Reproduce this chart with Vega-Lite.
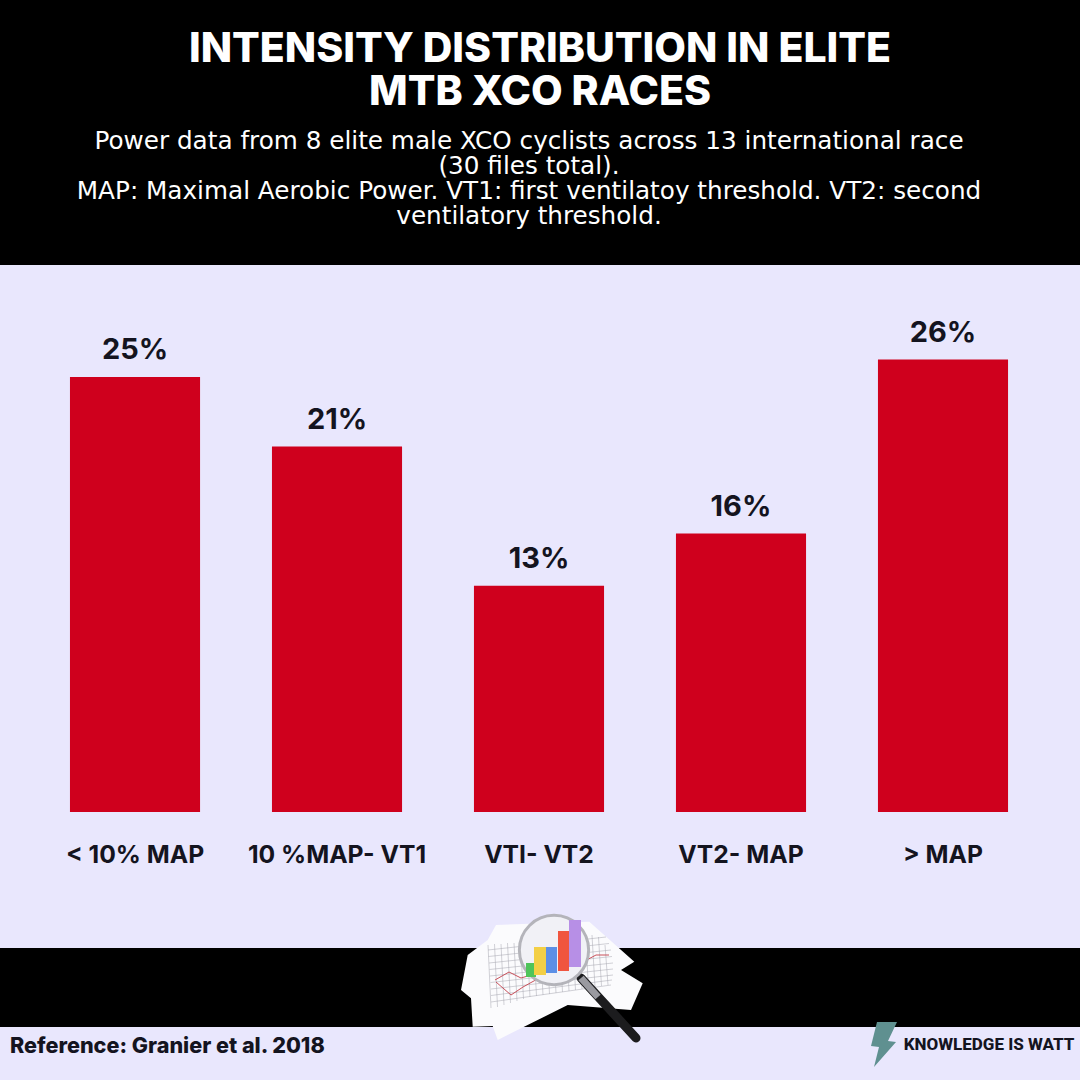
{
  "$schema": "https://vega.github.io/schema/vega-lite/v6.json",
  "description": "Intensity distribution in elite MTB XCO races",
  "width": 1080,
  "height": 1080,
  "autosize": "none",
  "padding": 0,
  "background": "#e9e7fd",
  "title": {
    "text": ["INTENSITY DISTRIBUTION IN ELITE", "MTB XCO RACES"],
    "anchor": "middle",
    "frame": "group",
    "offset": -114,
    "color": "#ffffff",
    "font": "Inter",
    "fontSize": 41,
    "fontWeight": 800,
    "lineHeight": 43
  },
  "datasets": {
    "zones": [
      {"zone": "< 10% MAP", "share": 25, "label": "25%"},
      {"zone": "10 %MAP- VT1", "share": 21, "label": "21%"},
      {"zone": "VTI- VT2", "share": 13, "label": "13%"},
      {"zone": "VT2- MAP", "share": 16, "label": "16%"},
      {"zone": "> MAP", "share": 26, "label": "26%"}
    ],
    "one": [{"item": "decor"}]
  },
  "config": {"view": {"stroke": null}},
  "layer": [
    {
      "data": {"name": "one"},
      "mark": {"type": "rect", "color": "#000000"},
      "encoding": {
        "y": {
          "datum": 46.667,
          "type": "quantitative",
          "scale": {"domain": [-15.402, 46.667], "nice": false, "zero": false},
          "axis": null
        },
        "y2": {"datum": 31.44}
      }
    },
    {
      "data": {"name": "one"},
      "mark": {"type": "rect", "color": "#000000"},
      "encoding": {
        "y": {"datum": -7.816, "type": "quantitative"},
        "y2": {"datum": -12.356}
      }
    },
    {
      "data": {"name": "zones"},
      "mark": {"type": "bar", "color": "#cf001d"},
      "encoding": {
        "x": {
          "field": "zone",
          "type": "nominal",
          "sort": null,
          "scale": {
            "domain": ["< 10% MAP", "10 %MAP- VT1", "VTI- VT2", "VT2- MAP", "> MAP"],
            "paddingInner": 0.356,
            "paddingOuter": 0.3513,
            "align": 0.493
          },
          "axis": null
        },
        "y": {"field": "share", "type": "quantitative"}
      }
    },
    {
      "data": {"name": "zones"},
      "mark": {"type": "text", "dy": -27, "font": "Inter", "fontSize": 29, "fontWeight": 700, "color": "#14141f"},
      "encoding": {
        "x": {"field": "zone", "type": "nominal"},
        "y": {"field": "share", "type": "quantitative"},
        "text": {"field": "label"}
      }
    },
    {
      "data": {"name": "zones"},
      "mark": {"type": "text", "font": "Inter", "fontSize": 24.7, "fontWeight": 700, "color": "#14141f"},
      "encoding": {
        "x": {"field": "zone", "type": "nominal"},
        "y": {"datum": -2.5, "type": "quantitative"},
        "text": {"field": "zone"}
      }
    },
    {
      "data": {"name": "one"},
      "mark": {
        "type": "text",
        "text": [
          "Power data from 8 elite male XCO cyclists across 13 international race",
          "(30 files total).",
          "MAP: Maximal Aerobic Power. VT1: first ventilatoy threshold. VT2: second",
          "ventilatory threshold."
        ],
        "dx": -10,
        "font": "DejaVu Sans",
        "fontSize": 24.7,
        "lineHeight": 25,
        "color": "#ffffff"
      },
      "encoding": {
        "x": {"datum": "VTI- VT2", "type": "nominal"},
        "y": {"datum": 38.48, "type": "quantitative"}
      }
    },
    {
      "data": {"name": "one"},
      "mark": {"type": "text", "text": "Reference: Granier et al. 2018", "align": "left", "dx": -125, "font": "Inter", "fontSize": 21.6, "fontWeight": 800, "color": "#14141f"},
      "encoding": {
        "x": {"datum": "< 10% MAP", "type": "nominal"},
        "y": {"datum": -13.5, "type": "quantitative"}
      }
    },
    {
      "data": {"name": "one"},
      "mark": {"type": "text", "text": "KNOWLEDGE IS WATT", "dx": 46, "font": "Roboto", "fontSize": 17, "fontWeight": 800, "color": "#14141f"},
      "encoding": {
        "x": {"datum": "> MAP", "type": "nominal"},
        "y": {"datum": -13.39, "type": "quantitative"}
      }
    },
    {
      "data": {"name": "one"},
      "mark": {
        "type": "point",
        "shape": "M-0.2,-0.44 L0.2,-0.44 L0.02,-0.06 L0.18,-0.04 L-0.26,0.46 L-0.16,0.06 L-0.32,0.04 Z",
        "filled": true,
        "opacity": 1,
        "size": 10000,
        "xOffset": -56,
        "color": "#5f9090"
      },
      "encoding": {
        "x": {"datum": "> MAP", "type": "nominal"},
        "y": {"datum": -13.33, "type": "quantitative"}
      }
    },
    {
      "data": {"name": "one"},
      "mark": {
        "type": "point",
        "shape": "M-0.55,-0.5 L0.383,-0.533 L0.833,-0.133 L0.7,-0.05 L0.917,0.083 L0.8,0.35 L0.167,0.3 L-0.533,0.65 L-0.583,0.51 L-0.783,0.517 L-0.8,0.233 L-0.9,0.15 L-0.833,-0.2 L-0.633,-0.35 Z",
        "filled": true,
        "opacity": 1,
        "size": 40000,
        "xOffset": 12,
        "color": "#fbfbfd"
      },
      "encoding": {
        "x": {"datum": "VTI- VT2", "type": "nominal"},
        "y": {"datum": -9.368, "type": "quantitative"}
      }
    },
    {
      "data": {"name": "one"},
      "mark": {
        "type": "point",
        "shape": "M-0.63,-0.3 L-0.6,0.33 M-0.565,-0.31 L-0.535,0.32 M-0.5,-0.31 L-0.47,0.3 M-0.435,-0.32 L-0.405,0.28 M-0.37,-0.32 L-0.34,0.26 M-0.305,-0.33 L-0.275,0.24 M-0.24,-0.34 L-0.21,0.22 M-0.175,-0.35 L-0.145,0.21 M-0.11,-0.36 L-0.08,0.2 M-0.045,-0.37 L-0.015,0.19 M0.02,-0.38 L0.05,0.18 M0.085,-0.39 L0.115,0.17 M0.15,-0.4 L0.18,0.16 M0.215,-0.4 L0.245,0.15 M0.28,-0.4 L0.31,0.14 M0.345,-0.4 L0.375,0.13 M0.41,-0.4 L0.44,0.12 M0.475,-0.38 L0.505,0.11 M0.54,-0.3 L0.57,0.1 M-0.63,-0.25 L0.55,-0.38 M-0.625,-0.185 L0.58,-0.315 M-0.62,-0.12 L0.6,-0.25 M-0.615,-0.055 L0.61,-0.185 M-0.61,0.01 L0.62,-0.12 M-0.605,0.075 L0.62,-0.06 M-0.6,0.14 L0.62,0 M-0.6,0.205 L0.61,0.05 M-0.6,0.27 L0.6,0.1",
        "filled": false,
        "opacity": 1,
        "size": 40000,
        "xOffset": 12,
        "strokeWidth": 0.5,
        "color": "#a4a4ae"
      },
      "encoding": {
        "x": {"datum": "VTI- VT2", "type": "nominal"},
        "y": {"datum": -9.368, "type": "quantitative"}
      }
    },
    {
      "data": {"name": "one"},
      "mark": {
        "type": "point",
        "shape": "M-0.56,0.05 L-0.42,-0.03 L-0.3,0.03 L-0.2,0 L-0.1,-0.02 M-0.55,0.07 L-0.4,0.2 L-0.28,0.12 L-0.1,0.02 M0.3,-0.12 L0.45,-0.2 L0.58,-0.2",
        "filled": false,
        "opacity": 1,
        "size": 40000,
        "xOffset": 12,
        "strokeWidth": 1,
        "color": "#c9505a"
      },
      "encoding": {
        "x": {"datum": "VTI- VT2", "type": "nominal"},
        "y": {"datum": -9.368, "type": "quantitative"}
      }
    },
    {
      "data": {"name": "one"},
      "mark": {
        "type": "point",
        "shape": "M0.3,0.03 L0.85,0.63",
        "filled": false,
        "opacity": 1,
        "size": 40000,
        "xOffset": 12,
        "strokeWidth": 9,
        "strokeCap": "round",
        "color": "#1c1c1e"
      },
      "encoding": {
        "x": {"datum": "VTI- VT2", "type": "nominal"},
        "y": {"datum": -9.368, "type": "quantitative"}
      }
    },
    {
      "data": {"name": "one"},
      "mark": {
        "type": "point",
        "shape": "M0.3,0.03 L0.47,0.22",
        "filled": false,
        "opacity": 1,
        "size": 40000,
        "xOffset": 12,
        "strokeWidth": 7,
        "color": "#9a9aa0"
      },
      "encoding": {
        "x": {"datum": "VTI- VT2", "type": "nominal"},
        "y": {"datum": -9.368, "type": "quantitative"}
      }
    },
    {
      "data": {"name": "one"},
      "mark": {
        "type": "point",
        "shape": "circle",
        "filled": true,
        "opacity": 1,
        "size": 4800,
        "xOffset": 15,
        "yOffset": -25,
        "fill": "#f1f1f6",
        "stroke": "#b4b4ba",
        "strokeWidth": 3
      },
      "encoding": {
        "x": {"datum": "VTI- VT2", "type": "nominal"},
        "y": {"datum": -9.368, "type": "quantitative"}
      }
    },
    {
      "data": {"name": "one"},
      "mark": {"type": "point", "shape": "M-0.25,-0.12 L-0.15,-0.12 L-0.15,0.02 L-0.25,0.02 Z", "filled": true, "opacity": 1, "size": 40000, "xOffset": 12, "color": "#4fc45a"},
      "encoding": {
        "x": {"datum": "VTI- VT2", "type": "nominal"},
        "y": {"datum": -9.368, "type": "quantitative"}
      }
    },
    {
      "data": {"name": "one"},
      "mark": {"type": "point", "shape": "M-0.17,-0.28 L-0.05,-0.28 L-0.05,0 L-0.17,0 Z", "filled": true, "opacity": 1, "size": 40000, "xOffset": 12, "color": "#f3cf45"},
      "encoding": {
        "x": {"datum": "VTI- VT2", "type": "nominal"},
        "y": {"datum": -9.368, "type": "quantitative"}
      }
    },
    {
      "data": {"name": "one"},
      "mark": {"type": "point", "shape": "M-0.05,-0.28 L0.06,-0.28 L0.06,-0.02 L-0.05,-0.02 Z", "filled": true, "opacity": 1, "size": 40000, "xOffset": 12, "color": "#5c8fe6"},
      "encoding": {
        "x": {"datum": "VTI- VT2", "type": "nominal"},
        "y": {"datum": -9.368, "type": "quantitative"}
      }
    },
    {
      "data": {"name": "one"},
      "mark": {"type": "point", "shape": "M0.07,-0.44 L0.18,-0.44 L0.18,-0.04 L0.07,-0.04 Z", "filled": true, "opacity": 1, "size": 40000, "xOffset": 12, "color": "#f0553f"},
      "encoding": {
        "x": {"datum": "VTI- VT2", "type": "nominal"},
        "y": {"datum": -9.368, "type": "quantitative"}
      }
    },
    {
      "data": {"name": "one"},
      "mark": {"type": "point", "shape": "M0.18,-0.55 L0.3,-0.55 L0.3,-0.08 L0.18,-0.08 Z", "filled": true, "opacity": 1, "size": 40000, "xOffset": 12, "color": "#b78fe6"},
      "encoding": {
        "x": {"datum": "VTI- VT2", "type": "nominal"},
        "y": {"datum": -9.368, "type": "quantitative"}
      }
    }
  ]
}
